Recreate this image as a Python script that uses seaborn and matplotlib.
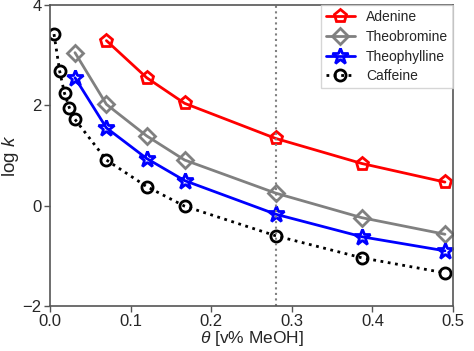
import matplotlib
matplotlib.use("Agg")
import matplotlib.pyplot as plt
import seaborn as sns
import pandas as pd

sns.set_style("ticks")
plt.rcParams['font.family'] = ['Liberation Sans', 'DejaVu Sans']
plt.rcParams['mathtext.fontset'] = 'custom'
plt.rcParams['mathtext.it'] = 'Liberation Sans:italic'
plt.rcParams['mathtext.rm'] = 'Liberation Sans'

x_main = [0.07, 0.12, 0.167, 0.28, 0.387, 0.49]
adenine = [3.29, 2.55, 2.04, 1.34, 0.84, 0.47]

x_theo = [0.031, 0.07, 0.12, 0.167, 0.28, 0.387, 0.49]
theobromine = [3.05, 2.02, 1.39, 0.91, 0.25, -0.24, -0.57]
theophylline = [2.55, 1.55, 0.94, 0.50, -0.17, -0.62, -0.90]

x_caff = [0.005, 0.012, 0.018, 0.024, 0.031, 0.07, 0.12, 0.167, 0.28, 0.387, 0.49]
caffeine = [3.42, 2.68, 2.24, 1.95, 1.72, 0.91, 0.38, -0.01, -0.60, -1.04, -1.34]

x_ticks = [0.0, 0.1, 0.2, 0.3, 0.4, 0.5]
y_ticks = [-2, 0, 2, 4]
vline_x = 0.28

fig = plt.figure(figsize=(4.74, 3.51), dpi=100)
ax = fig.add_axes([50/474, 1-306/351, (453-50)/474, (306-5)/351])

series = [
    ("Adenine", x_main, adenine, "red", "p", "-", 9.5),
    ("Theobromine", x_theo, theobromine, "gray", "D", "-", 8),
    ("Theophylline", x_theo, theophylline, "blue", "*", "-", 12),
    ("Caffeine", x_caff, caffeine, "black", "o", ":", 8),
]
for name, xs, ys, col, mk, ls, ms in series:
    df = pd.DataFrame({"x": xs, "y": ys})
    sns.lineplot(data=df, x="x", y="y", ax=ax, color=col, marker=mk,
                 linestyle=ls, linewidth=2, markersize=ms, fillstyle="none",
                 markeredgewidth=2, markeredgecolor=col, label=name)

ax.axvline(vline_x, color="gray", linestyle=":", linewidth=1.5)

ax.set_xlim(0, 0.5)
ax.set_ylim(-2, 4)
ax.set_xticks(x_ticks)
ax.set_xticklabels([f"{v:.1f}" for v in x_ticks])
ax.set_yticks(y_ticks)
ax.set_yticklabels(["\u22122", "0", "2", "4"])
ax.tick_params(labelsize=12, length=4, width=1, color="#555555", pad=2)
for s in ax.spines.values():
    s.set_visible(True)
    s.set_color("#555555")
    s.set_linewidth(1.2)
ax.set_xlabel(r"$\theta$ [v% MeOH]", fontsize=12.5, labelpad=0)
ax.set_ylabel(r"log $k$", fontsize=13.5, labelpad=0)
ax.yaxis.set_label_coords(-0.072, 0.5)

leg = ax.legend(loc="upper right", fontsize=10, frameon=True, handlelength=2.1,
                borderaxespad=0.0, labelspacing=0.42, borderpad=0.35,
                handletextpad=0.8, fancybox=False)
leg.get_frame().set_edgecolor("#cccccc")
leg.get_frame().set_linewidth(1.0)

fig.savefig("out.png", dpi=100)
